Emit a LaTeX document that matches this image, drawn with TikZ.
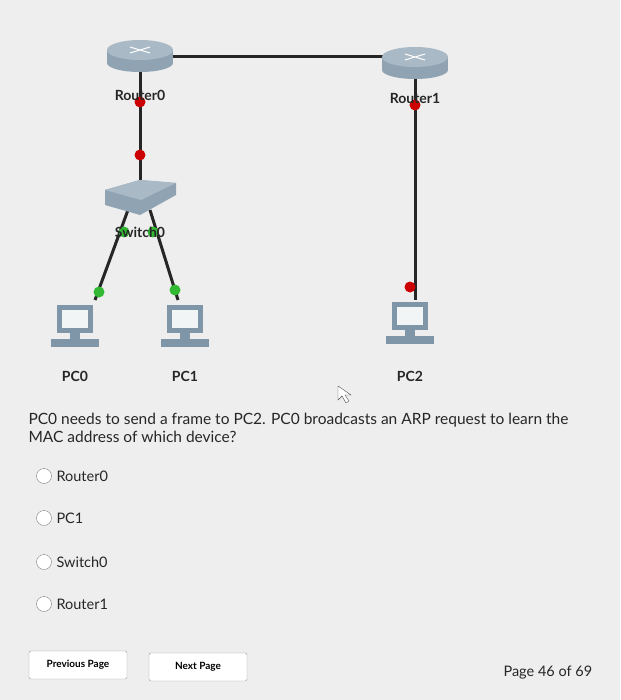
\documentclass[tikz,border=0pt]{standalone}
\usepackage{fontspec}
\setmainfont{Lato}
\usetikzlibrary{shapes.geometric}
\definecolor{bg}{HTML}{EEEEEE}
\definecolor{rtr}{HTML}{8FA3B2}
\definecolor{rtrtop}{HTML}{A9BAC6}
\definecolor{pcc}{HTML}{7F96A8}
\begin{document}
\begin{tikzpicture}[x=1pt,y=-1pt,
  link/.style={line width=3pt,black!85},
  rdot/.style={circle,fill=red!80!black,minimum size=11pt,inner sep=0},
  gdot/.style={circle,fill=green!65!black!80,minimum size=11pt,inner sep=0},
  lbl/.style={font=\fontsize{14}{16}\selectfont\bfseries,text=black!85},
  txt/.style={font=\fontsize{15.5}{18}\selectfont,text=black!85,anchor=west},
  radio/.style={circle,draw=black!50,fill=white,minimum size=15pt,inner sep=0},
  btn/.style={draw=black!40,fill=white,rounded corners=2pt,minimum width=98pt,minimum height=28pt,font=\fontsize{10}{12}\selectfont\bfseries}]
\fill[bg] (0,0) rectangle (620,700);
\useasboundingbox (0,0) rectangle (620,700);
% links
\coordinate (r0) at (140,55); \coordinate (r1) at (415,62);
\coordinate (sw) at (140,195);
\coordinate (p0) at (75,325); \coordinate (p1) at (185,325); \coordinate (p2) at (410,322);
\draw[link] (172,57) -- (384,57);
\draw[link] (r0) -- (sw);
\draw[link] (r1) -- (415,300);
\draw[link] (128,210) -- (95,300);
\draw[link] (150,210) -- (178,300);
% routers
\foreach \c in {r0,r1}{
 \begin{scope}[shift={(\c)}]
 \fill[rtr] (-33,-5) rectangle (33,8);
 \fill[rtr] (0,8) ellipse (33 and 9);
 \fill[rtrtop] (0,-5) ellipse (33 and 10);
 \draw[white,line width=1pt] (-10,-8)--(10,-2) (-10,-2)--(10,-8);
 \end{scope}}
% switch
\fill[rtr] (105,190) -- (140,180) -- (176,183) -- (176,195) -- (140,215) -- (105,205) -- cycle;
\fill[rtrtop] (105,190) -- (140,180) -- (176,183) -- (141,200) -- cycle;
% PCs
\foreach \c in {p0,p1,p2}{
 \begin{scope}[shift={(\c)}]
 \fill[pcc] (-18,-20) rectangle (18,8);
 \fill[white!90!pcc] (-13,-15) rectangle (13,3);
 \fill[pcc] (-24,14) rectangle (24,22);
 \fill[pcc] (-5,8) rectangle (5,14);
 \end{scope}}
% dots
\node[rdot] (d1) at (140,102) {};
\node[rdot] (d2) at (140,155) {};
\node[rdot] (d3) at (415,105) {};
\node[rdot] (d4) at (410,287) {};
\node[gdot] (g1) at (124,232) {};
\node[gdot] (g2) at (153,232) {};
\node[gdot] (g3) at (99,292) {};
\node[gdot] (g4) at (175,290) {};
% labels
\node[lbl] (l0) at (140,95) {Router0};
\node[lbl] (l1) at (415,98) {Router1};
\node[lbl] (ls) at (140,232) {Switch0};
\node[lbl] (lp0) at (75,376) {PC0};
\node[lbl] (lp1) at (185,376) {PC1};
\node[lbl] (lp2) at (410,376) {PC2};
% cursor
\draw[black!70,fill=white] (338,386) -- (338,400) -- (342,396) -- (346,403) -- (349,401) -- (345,395) -- (351,395) -- cycle;
% question
\node[txt] (q1) at (25,420) {PC0 needs to send a frame to PC2. PC0 broadcasts an ARP request to learn the};
\node[txt] (q2) at (25,437) {MAC address of which device?};
\foreach \y/\t in {476/Router0,518/PC1,562/Switch0,604/Router1}{
 \node[radio] at (44,\y) {};
 \node[txt,font=\fontsize{14.5}{16}\selectfont] at (53,\y) {\t};
}
\node[btn] (pb) at (78,665) {Previous Page};
\node[btn] (nb) at (198,667) {Next Page};
\node[txt,font=\fontsize{14.5}{16}\selectfont] (pg) at (500,673) {Page 46 of 69};
\end{tikzpicture}
\end{document}
